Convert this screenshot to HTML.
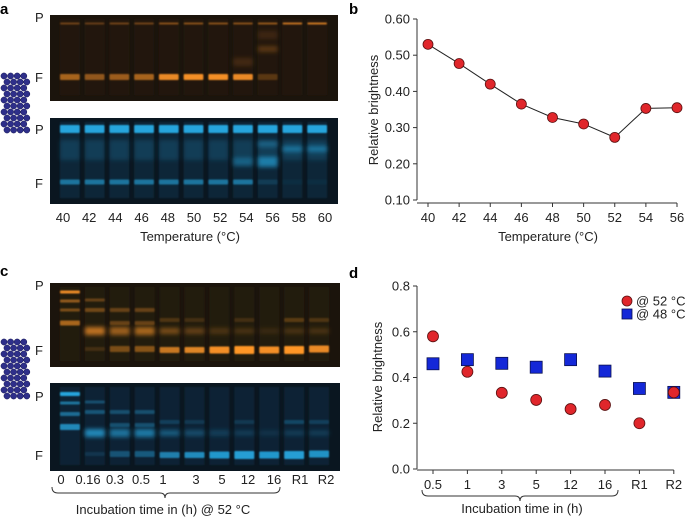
<!DOCTYPE html>
<html><head><meta charset="utf-8"><style>
body{margin:0;background:#fff;}
svg{display:block;font-family:"Liberation Sans",Arial,sans-serif;}
</style></head><body>
<svg id="fig" width="685" height="519" viewBox="0 0 685 519">
<defs>
<filter id="bl" x="-20%" y="-100%" width="140%" height="300%"><feGaussianBlur stdDeviation="0.9"/></filter>
<filter id="bl2" x="-20%" y="-100%" width="140%" height="300%"><feGaussianBlur stdDeviation="2"/></filter>
</defs>
<g id="gels"></g>
<g id="chartB"></g>
<g id="chartD"></g>
<g font-weight="bold" font-size="15" fill="#000">
<text x="0" y="14">a</text>
<text x="349" y="14">b</text>
<text x="0" y="276">c</text>
<text x="349" y="278">d</text>
</g>
</svg>
<script>
// ---- chart b data ----
const bTemps = [40,42,44,46,48,50,52,54,56];
const bValues = [0.53,0.477,0.42,0.365,0.328,0.31,0.273,0.353,0.355];
const bYTicks = [0.10,0.20,0.30,0.40,0.50,0.60];
// ---- chart d data ----
const dCats = ["0.5","1","3","5","12","16","R1","R2"];
const d52 = [0.58,0.425,0.333,0.302,0.262,0.28,0.2,0.335];
const d48 = [0.46,0.478,0.462,0.445,0.478,0.428,0.352,0.335];
const dYTicks = [0.0,0.2,0.4,0.6,0.8];
// ---- gel lane labels ----
const aLanes = ["40","42","44","46","48","50","52","54","56","58","60"];
const cLanes = ["0","0.16","0.3","0.5","1","3","5","12","16","R1","R2"];

const NS="http://www.w3.org/2000/svg";
function mk(tag,attrs,parent,txt){const e=document.createElementNS(NS,tag);for(const k in attrs)e.setAttribute(k,attrs[k]);if(txt!==undefined)e.textContent=txt;parent.appendChild(e);return e;}

// ---------- chart b ----------
(function(){
const g=document.getElementById('chartB');
const x0=428,x1=677,y0=200,y1=19;
const xs=t=>x0+(t-40)/(56-40)*(x1-x0);
const ys=v=>y0+(v-0.1)/(0.6-0.1)*(y1-y0);
let e=mk('line',{x1:417,y1:y1,x2:417,y2:y0,stroke:'#333','stroke-width':1},g);

e=mk('line',{x1:417,y1:203,x2:x1,y2:203,stroke:'#333','stroke-width':1},g);

bYTicks.forEach(v=>{mk('line',{x1:413,x2:417,y1:ys(v),y2:ys(v),stroke:'#333'},g);
 e=mk('text',{x:410,y:ys(v)+4.5,'text-anchor':'end','font-size':13,fill:'#222'},g,v.toFixed(2));
 });
bTemps.forEach(t=>{mk('line',{x1:xs(t),x2:xs(t),y1:203,y2:207,stroke:'#333'},g);
 e=mk('text',{x:xs(t),y:222,'text-anchor':'middle','font-size':13,fill:'#222'},g,String(t));
 });
e=mk('text',{x:548,y:241,'text-anchor':'middle','font-size':13,fill:'#222'},g,'Temperature (°C)');

e=mk('text',{x:0,y:0,'text-anchor':'middle','font-size':13,fill:'#222',transform:'translate(378,110) rotate(-90)'},g,'Relative brightness');

e=mk('polyline',{points:bTemps.map((t,i)=>xs(t)+','+ys(bValues[i])).join(' '),fill:'none',stroke:'#222','stroke-width':1},g);

bTemps.forEach((t,i)=>{e=mk('circle',{cx:xs(t),cy:ys(bValues[i]),r:5,fill:'#e0262b',stroke:'#5a1010','stroke-width':0.8},g);
 });
})();

// ---------- chart d ----------
(function(){
const g=document.getElementById('chartD');
const xc=i=>433+i*34.4;
const y0=469,y1=286;
const ys=v=>y0+v/0.8*(y1-y0);
let e=mk('line',{x1:417,y1:y1,x2:417,y2:y0,stroke:'#333'},g);

e=mk('line',{x1:417,y1:470,x2:xc(7),y2:470,stroke:'#333'},g);

dYTicks.forEach(v=>{mk('line',{x1:413,x2:417,y1:ys(v),y2:ys(v),stroke:'#333'},g);
 e=mk('text',{x:410,y:ys(v)+4.5,'text-anchor':'end','font-size':13,fill:'#222'},g,v.toFixed(1));
 });
dCats.forEach((c,i)=>{mk('line',{x1:xc(i),x2:xc(i),y1:470,y2:474,stroke:'#333'},g);
 e=mk('text',{x:xc(i),y:489,'text-anchor':'middle','font-size':13,fill:'#222'},g,c);
 });
const bx0=xc(0)-11,bx1=xc(5)+13,bm=(bx0+bx1)/2;
e=mk('path',{d:`M${bx0},490 Q${bx0},496 ${bx0+6},496 L${bm-5},496 Q${bm},496 ${bm},501 Q${bm},496 ${bm+5},496 L${bx1-6},496 Q${bx1},496 ${bx1},490`,fill:'none',stroke:'#333','stroke-width':1},g);

e=mk('text',{x:522,y:513,'text-anchor':'middle','font-size':13,fill:'#222'},g,'Incubation time in (h)');

e=mk('text',{x:0,y:0,'text-anchor':'middle','font-size':13,fill:'#222',transform:'translate(382,377) rotate(-90)'},g,'Relative brightness');

d48.forEach((v,i)=>{e=mk('rect',{x:xc(i)-6,y:ys(v)-6,width:12,height:12,fill:'#1428d8',stroke:'#0a1050','stroke-width':0.8},g);
 });
d52.forEach((v,i)=>{e=mk('circle',{cx:xc(i),cy:ys(v),r:5.5,fill:'#e0262b',stroke:'#5a1010','stroke-width':0.8},g);
 });
e=mk('circle',{cx:627,cy:301,r:5,fill:'#e0262b',stroke:'#5a1010','stroke-width':0.8},g);

e=mk('text',{x:636,y:305.5,'font-size':13,fill:'#222'},g,'@ 52 °C');

e=mk('rect',{x:622,y:309,width:10,height:10,fill:'#1428d8',stroke:'#0a1050','stroke-width':0.8},g);

e=mk('text',{x:636,y:318.5,'font-size':13,fill:'#222'},g,'@ 48 °C');

})();

// ---------- gels ----------
(function(){
const g=document.getElementById('gels');
const OR=[255,150,40], BL=[40,180,240];
function col(c,a){return `rgba(${c[0]},${c[1]},${c[2]},${a})`;}
function gel(name,x,y,w,h,bg,laneBg,c,lanes){
 let e=mk('rect',{x:x,y:y,width:w,height:h,fill:bg},g);
 
 const n=lanes.length, sp=(w-16)/n;
 lanes.forEach((bands,i)=>{const lx=x+8+i*sp+2, lw=sp-5;
  mk('rect',{x:lx,y:y+4,width:lw,height:h-10,fill:laneBg,filter:'url(#bl)'},g);
  bands.forEach(b=>{const [by,bh,a,soft]=b;
   mk('rect',{x:lx,y:by-bh/2,width:lw,height:bh,fill:col(c,a),filter:soft?'url(#bl2)':'url(#bl)',rx:1},g);});
 });
}
const aOr=[[.35,.6],[.3,.5],[.35,.55],[.35,.6],[.45,.9],[.45,.95],[.45,.95],[.45,.9],[.5,.25],[.7,0],[.75,0]].map((p,i)=>{
 const b=[[23.5,2,p[0],0]]; if(p[1]>0)b.push([77,6,p[1],0]);
 if(i==7)b.push([62,8,.15,1]); if(i==8){b.push([49,6,.25,1]);b.push([35,8,.12,1]);} return b;});
gel('gel-a-orange',50,15,288,86,'#1b140c','#221910',OR,aOr);
const aBl=aLanes.map((_,i)=>{const b=[[129,8,.9,0],[150,20,.16,1],[182,5,.55,0]];
 if(i==7)b.push([162,8,.4,1]); if(i==8){b.push([162,10,.6,1]);b.push([144,6,.3,1]);b[2][2]=.15;}
 if(i>=9){b.push([149,6,.45,1]);b[2][2]=.05;} return b;});
gel('gel-a-blue',50,118,288,86,'#0a1620','#0f2638',BL,aBl);
const cOr=[[[292,3,.9,0],[301,3,.5,0],[310,3,.4,0],[323,5,.6,0]],
 [[300,3,.3,0],[310,4,.35,0],[331,8,.7,1],[349,4,.15,0]],
 [[310,4,.3,0],[323,4,.3,0],[331,8,.55,1],[349,6,.4,0]],
 [[310,4,.3,0],[323,4,.3,0],[331,8,.6,1],[349,6,.45,0]],
 [[320,4,.2,0],[331,6,.4,1],[350,6,.75,0]],
 [[320,4,.15,0],[331,6,.3,1],[350,6,.85,0]],
 [[331,6,.2,1],[350,7,.95,0]],
 [[320,4,.15,0],[331,5,.2,1],[350,8,1,0]],
 [[331,5,.12,1],[350,7,.95,0]],
 [[320,4,.25,0],[331,5,.2,1],[350,8,1,0]],
 [[320,4,.2,0],[331,5,.2,1],[349,7,.9,0]]];
gel('gel-c-orange',50,283,290,84,'#1b140c','#241a10',OR,cOr);
const cBl=cOr.map((bands,i)=>bands.map(b=>[b[0]+(i==0?103:102)+(b[0]>345?3:0),b[1],Math.min(1,b[2]*(b[0]>345?0.85:1.0)),b[3]]));
cBl[0]=[[394,4,.9,0],[403,3,.55,0],[414,4,.5,0],[427,6,.7,0]];
gel('gel-c-blue',50,383,290,88,'#0a1620','#0e2436',BL,cBl);
aLanes.forEach((t,i)=>{const e=mk('text',{x:63+i*26.2,y:222,'text-anchor':'middle','font-size':13,fill:'#222'},g,t);
 });
const cx=[61,88,115,141,163,196,222,248,274,300,326];
cLanes.forEach((t,i)=>{const e=mk('text',{x:cx[i],y:484,'text-anchor':'middle','font-size':13,fill:'#222'},g,t);
 });
let e=mk('text',{x:190,y:241,'text-anchor':'middle','font-size':13,fill:'#222'},g,'Temperature (°C)');

e=mk('path',{d:'M52,487 Q52,493 58,493 L160,493 Q165,493 165,498 Q165,493 170,493 L274,493 Q280,493 280,487',fill:'none',stroke:'#333'},g);

e=mk('text',{x:163,y:514,'text-anchor':'middle','font-size':13,fill:'#222'},g,'Incubation time in (h) @ 52 °C');

[['P',22,'p-label'],['F',82,'f-label'],['P',134,'p-label'],['F',188,'f-label'],['P',290,'p-label'],['F',355,'f-label'],['P',401,'p-label'],['F',460,'f-label']].forEach(l=>{
 const t=mk('text',{x:35,y:l[1],'font-size':13,fill:'#222'},g,l[0]);
 });
[73,339].forEach((oy,k)=>{const mg=mk('g',{},g);
 
 for(let r=0;r<10;r++){for(let c=0;c<4;c++){const off=(r%2)?3:0;
  mk('circle',{cx:4+c*6.6+off,cy:oy+3+r*6,r:3.1,fill:'#2e2f8a',stroke:'#1a1a55','stroke-width':0.5},mg);}}
});
})();
</script>
</body></html>
